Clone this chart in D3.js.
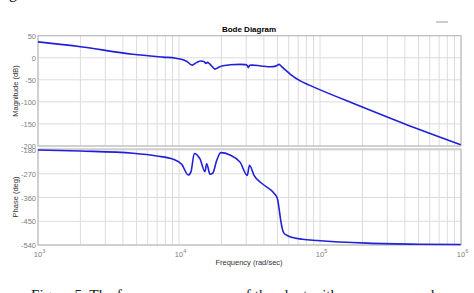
<!DOCTYPE html>
<html>
<head>
<meta charset="utf-8">
<script src="https://cdn.jsdelivr.net/npm/d3@7"></script>
<style>
  body { margin: 0; background: #fff; }
  svg { display: block; font-family: Arial, 'Liberation Sans', sans-serif; }
</style>
</head>
<body>
<div id="chart"></div>
<script>
// magnitude curve (rad/sec, dB)
const magFreq = [1000, 2000, 4700, 7700, 9500, 10200, 11300, 12400, 13300, 14300, 15100, 15500, 15900, 16500, 17400, 18000, 19000, 20100, 23000, 27100, 29500, 30500, 31000, 31700, 33000, 38000, 44700, 48500, 51200, 53500, 57000, 62000, 73000, 84000, 197600, 400000, 995000]
const magDb = [36, 25, 8, 1.5, -1, -3, -8, -16.6, -11, -7.5, -9, -12.8, -10.5, -14, -22, -25.7, -22, -18.5, -16, -15, -15.5, -17.5, -22.7, -17, -16.6, -18.5, -20.5, -19, -15, -20, -28, -38, -53, -62, -111, -150, -197]

// phase curve (rad/sec, deg)
const phaseFreq = [1000, 2000, 4730, 6950, 9110, 10450, 11640, 12170, 12840, 14090, 15280, 15710, 16600, 17340, 18500, 19770, 23000, 27100, 30490, 31620, 34040, 38990, 47200, 49800, 51200, 52600, 54000, 55590, 58500, 61950, 75000, 95700, 216400, 500000, 995000]
const phaseDeg = [-180, -184, -192.6, -202.7, -215, -234, -275, -262, -193, -214, -262, -232, -272, -268, -220, -190, -199, -226, -276, -238, -276, -308, -344, -363, -400, -445, -478, -496, -504, -510, -518, -523, -533, -537, -538]

const magTicks = [50, 0, -50, -100, -150, -200]
const phaseTicks = [-180, -270, -360, -450, -540]
const decades = [3, 4, 5, 6]

const width = 474
const height = 293
const left = 38
const right = 461

const svg = d3
  .select('#chart')
  .append('svg')
  .attr('width', width)
  .attr('height', height)

const xScale = d3.scaleLog().domain([1e3, 1e6]).range([left, right])
const magScale = d3.scaleLinear().domain([-200, 50]).range([146, 35.7])
const phaseScale = d3.scaleLinear().domain([-540, -180]).range([245, 150])

// minor + major vertical grid positions
const gridFreqs = []
for (let e = 3; e < 6; e++) {
  for (let m = 1; m <= 9; m++) gridFreqs.push(m * Math.pow(10, e))
}
gridFreqs.push(1e6)

function drawPanel(yScale, top, bottom, ticks) {
  const g = svg.append('g')
  g.selectAll('.vgrid')
    .data(gridFreqs)
    .enter()
    .append('line')
    .attr('x1', d => xScale(d))
    .attr('x2', d => xScale(d))
    .attr('y1', top)
    .attr('y2', bottom)
    .attr('stroke', '#dcdcdc')
    .attr('stroke-width', 1)

  g.selectAll('.hgrid')
    .data(ticks)
    .enter()
    .append('line')
    .attr('x1', left)
    .attr('x2', right)
    .attr('y1', d => yScale(d))
    .attr('y2', d => yScale(d))
    .attr('stroke', '#dcdcdc')

  g.append('rect')
    .attr('x', left)
    .attr('y', top)
    .attr('width', right - left)
    .attr('height', bottom - top)
    .attr('fill', 'none')
    .attr('stroke', '#b4b4b4')

  g.selectAll('.ylab')
    .data(ticks)
    .enter()
    .append('text')
    .attr('x', left - 2)
    .attr('y', d => yScale(d) + 3)
    .attr('text-anchor', 'end')
    .attr('font-size', 7.5)
    .attr('fill', '#808080')
    .text(d => d)
  return g
}

drawPanel(magScale, 35.7, 146, magTicks)
drawPanel(phaseScale, 149, 245, phaseTicks)

const magLine = d3
  .line()
  .x(d => xScale(d[0]))
  .y(d => magScale(d[1]))
  .curve(d3.curveMonotoneX)

const phaseLine = d3
  .line()
  .x(d => xScale(d[0]))
  .y(d => phaseScale(d[1]))
  .curve(d3.curveMonotoneX)

svg.append('path')
  .datum(d3.zip(magFreq, magDb))
  .attr('d', magLine)
  .attr('fill', 'none')
  .attr('stroke', '#2020d8')
  .attr('stroke-width', 1.6)

svg.append('path')
  .datum(d3.zip(phaseFreq, phaseDeg))
  .attr('d', phaseLine)
  .attr('fill', 'none')
  .attr('stroke', '#2020d8')
  .attr('stroke-width', 1.6)

// x tick labels 10^n
const xl = svg.selectAll('.xlab')
  .data(decades)
  .enter()
  .append('text')
  .attr('x', d => xScale(Math.pow(10, d)) + 1.5)
  .attr('y', 257)
  .attr('text-anchor', 'middle')
  .attr('font-size', 7.5)
  .attr('fill', '#808080')
xl.append('tspan').text('10')
xl.append('tspan')
  .attr('dy', -4)
  .attr('font-size', 5.5)
  .text(d => d)

svg.append('text')
  .attr('x', 249)
  .attr('y', 32)
  .attr('text-anchor', 'middle')
  .attr('font-size', 8)
  .attr('font-weight', 'bold')
  .text('Bode Diagram')

svg.append('text')
  .attr('x', 249)
  .attr('y', 265)
  .attr('text-anchor', 'middle')
  .attr('font-size', 7.5)
  .attr('fill', '#333')
  .text('Frequency  (rad/sec)')

svg.append('text')
  .attr('transform', 'translate(18,91) rotate(-90)')
  .attr('text-anchor', 'middle')
  .attr('font-size', 7.5)
  .attr('fill', '#333')
  .text('Magnitude (dB)')

svg.append('text')
  .attr('transform', 'translate(18,197) rotate(-90)')
  .attr('text-anchor', 'middle')
  .attr('font-size', 7.5)
  .attr('fill', '#333')
  .text('Phase (deg)')

// bits of the surrounding page
svg.append('line')
  .attr('x1', 436).attr('x2', 448)
  .attr('y1', 22).attr('y2', 22)
  .attr('stroke', '#999')
  .attr('stroke-width', 1)

svg.append('text')
  .attr('x', 9)
  .attr('y', -2)
  .attr('font-family', "'Liberation Serif', serif")
  .attr('font-size', 16)
  .text('g')

svg.append('text')
  .attr('x', 31)
  .attr('y', 300)
  .attr('font-family', "'Liberation Serif', serif")
  .attr('font-size', 15.2)
  .attr('fill', '#222')
  .text('Figure 5. The frequency response of the plant with resonances and')
</script>
</body>
</html>
